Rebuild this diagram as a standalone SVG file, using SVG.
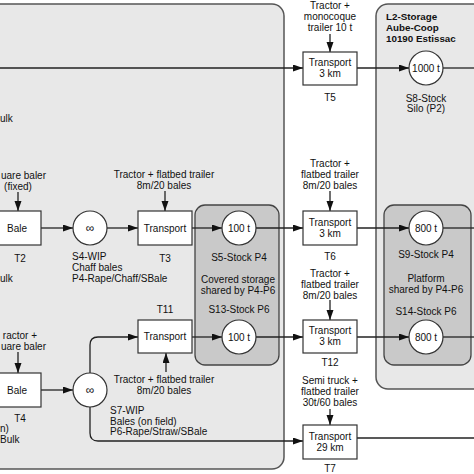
<svg xmlns="http://www.w3.org/2000/svg" width="474" height="474" viewBox="0 0 474 474">
<style>
text{font-family:"Liberation Sans",Arial,sans-serif;font-size:10px;fill:#111;}
.c{text-anchor:middle;}
.e{text-anchor:end;}
.b{font-weight:bold;font-size:9.8px;}
.inf{font-size:12px;}
.cont{fill:#e8e8e8;stroke:#555;stroke-width:1.5;}
.inner{fill:#c9c9c9;stroke:#444;stroke-width:1.3;}
.box{fill:#fff;stroke:#333;stroke-width:1.2;}
.circ{fill:#fff;stroke:#333;stroke-width:1.2;}
.ln{fill:none;stroke:#222;stroke-width:1.3;}
.ar{marker-end:url(#ah);}
</style>
<defs>
<marker id="ah" markerUnits="userSpaceOnUse" markerWidth="11" markerHeight="8" refX="10" refY="3.5" orient="auto">
<path d="M0,0 L10,3.5 L0,7 z" fill="#111"/>
</marker>
</defs>
<rect width="474" height="474" fill="#fff"/>
<g id="L1-container"><rect class="cont" x="-20" y="4" width="304" height="465" rx="12"/></g>
<g id="L2-container"><rect class="cont" x="376" y="4" width="130" height="385" rx="12"/>
<text class="b" x="386" y="19.5">L2-Storage</text>
<text class="b" x="386" y="30.5">Aube-Coop</text>
<text class="b" x="386" y="41.5">10190 Estissac</text></g>
<g id="covered-storage"><rect class="inner" x="195" y="205" width="84" height="160" rx="10"/>
<text class="c" x="238" y="282.5">Covered storage</text>
<text class="c" x="238" y="293.5">shared by P4-P6</text></g>
<g id="platform"><rect class="inner" x="384" y="205" width="87" height="160" rx="10"/>
<text class="c" x="426" y="281.5">Platform</text>
<text class="c" x="426" y="292.5">shared by P4-P6</text></g>
<g id="side-labels">
<text x="0" y="121.5">ulk</text>
<text x="0" y="281.5">ulk</text>
<text x="0" y="431.5">n)</text>
<text x="0" y="442.5">Bulk</text>
</g>
<g id="connectors">
<line class="ln ar" x1="0" y1="68" x2="303" y2="68"/>
<line class="ln ar" x1="330" y1="34" x2="330" y2="52"/>
<line class="ln ar" x1="357" y1="68" x2="409" y2="68"/>
<line class="ln" x1="443" y1="68" x2="474" y2="68"/>
<line class="ln ar" x1="18" y1="192" x2="18" y2="211"/>
<line class="ln ar" x1="41" y1="228" x2="73" y2="228"/>
<line class="ln ar" x1="107" y1="228" x2="138" y2="228"/>
<line class="ln ar" x1="165" y1="191" x2="165" y2="211"/>
<line class="ln ar" x1="192" y1="228" x2="222" y2="228"/>
<line class="ln ar" x1="256" y1="228" x2="303" y2="228"/>
<line class="ln ar" x1="330" y1="191" x2="330" y2="211"/>
<line class="ln ar" x1="357" y1="228" x2="409" y2="228"/>
<line class="ln" x1="443" y1="228" x2="474" y2="228"/>
<line class="ln ar" x1="166" y1="372" x2="166" y2="353"/>
<line class="ln ar" x1="192" y1="337" x2="222" y2="337"/>
<line class="ln ar" x1="256" y1="337" x2="303" y2="337"/>
<line class="ln ar" x1="330" y1="300" x2="330" y2="320"/>
<line class="ln ar" x1="357" y1="337" x2="409" y2="337"/>
<line class="ln" x1="443" y1="337" x2="474" y2="337"/>
<line class="ln ar" x1="18" y1="352" x2="18" y2="373"/>
<line class="ln ar" x1="41" y1="390" x2="73" y2="390"/>
<path class="ln ar" d="M90,373 V345 Q90,337 98,337 H138"/>
<path class="ln ar" d="M90,407 V433 Q90,441 98,441 H303"/>
<line class="ln ar" x1="330" y1="409" x2="330" y2="425"/>
<line class="ln" x1="357" y1="438" x2="474" y2="438"/>
</g>
<g id="T5"><text class="c" x="330" y="8.5">Tractor +</text><text class="c" x="330" y="19.5">monocoque</text><text class="c" x="330" y="30.5">trailer 10 t</text>
<rect class="box" x="303" y="52" width="54" height="33"/><text class="c" x="330" y="65.5">Transport</text><text class="c" x="330" y="77">3 km</text><text class="c" x="330" y="100.5">T5</text></g>
<g id="S8"><circle class="circ" cx="426" cy="68" r="17"/><text class="c" x="426" y="71.5">1000 t</text><text class="c" x="426" y="101.5">S8-Stock</text><text class="c" x="426" y="112">Silo (P2)</text></g>
<g id="T2"><text class="e" x="46" y="178.5">uare baler</text><text class="c" x="18" y="189.5">(fixed)</text>
<rect class="box" x="-6" y="211" width="47" height="34"/><text class="c" x="17" y="231.5">Bale</text><text class="c" x="20" y="261.5">T2</text></g>
<g id="S4"><circle class="circ" cx="90" cy="228" r="17"/><text class="c inf" x="90" y="232">∞</text>
<text x="72" y="259.5">S4-WIP</text><text x="72" y="270.5">Chaff bales</text><text x="72" y="281.5">P4-Rape/Chaff/SBale</text></g>
<g id="T3"><text class="c" x="164" y="177.5">Tractor + flatbed trailer</text><text class="c" x="164" y="188.5">8m/20 bales</text>
<rect class="box" x="138" y="211" width="54" height="34"/><text class="c" x="165" y="231.5">Transport</text><text class="c" x="165" y="261.5">T3</text></g>
<g id="S5"><circle class="circ" cx="239" cy="228" r="17"/><text class="c" x="239" y="231.5">100 t</text><text class="c" x="239" y="260.5">S5-Stock P4</text></g>
<g id="S13"><text class="c" x="239" y="312.5">S13-Stock P6</text><circle class="circ" cx="239" cy="337" r="17"/><text class="c" x="239" y="340.5">100 t</text></g>
<g id="T6"><text class="c" x="330" y="166.5">Tractor +</text><text class="c" x="330" y="177.5">flatbed trailer</text><text class="c" x="330" y="188.5">8m/20 bales</text>
<rect class="box" x="303" y="211" width="54" height="34"/><text class="c" x="330" y="225.5">Transport</text><text class="c" x="330" y="236.5">3 km</text><text class="c" x="330" y="259.5">T6</text></g>
<g id="S9"><circle class="circ" cx="426" cy="228" r="17"/><text class="c" x="426" y="231.5">800 t</text><text class="c" x="426" y="257.5">S9-Stock P4</text></g>
<g id="S14"><text class="c" x="426" y="314.5">S14-Stock P6</text><circle class="circ" cx="426" cy="337" r="17"/><text class="c" x="426" y="340.5">800 t</text></g>
<g id="T11"><text class="c" x="165" y="312.5">T11</text><rect class="box" x="138" y="320" width="54" height="33"/><text class="c" x="165" y="340">Transport</text>
<text class="c" x="164" y="382.5">Tractor + flatbed trailer</text><text class="c" x="164" y="393.5">8m/20 bales</text></g>
<g id="T12"><text class="c" x="330" y="276.5">Tractor +</text><text class="c" x="330" y="287.5">flatbed trailer</text><text class="c" x="330" y="298.5">8m/20 bales</text>
<rect class="box" x="303" y="320" width="54" height="33"/><text class="c" x="330" y="334">Transport</text><text class="c" x="330" y="345">3 km</text><text class="c" x="330" y="365.5">T12</text></g>
<g id="T4"><text class="e" x="37" y="338.5">ractor +</text><text class="e" x="46" y="349.5">uare baler</text>
<rect class="box" x="-6" y="373" width="47" height="34"/><text class="c" x="17" y="393.5">Bale</text><text class="c" x="20" y="421.5">T4</text></g>
<g id="S7"><circle class="circ" cx="90" cy="390" r="17"/><text class="c inf" x="90" y="394">∞</text>
<text x="110" y="413.5">S7-WIP</text><text x="110" y="424.5">Bales (on field)</text><text x="110" y="435">P6-Rape/Straw/SBale</text></g>
<g id="T7"><text class="c" x="330" y="383.5">Semi truck +</text><text class="c" x="330" y="395">flatbed trailer</text><text class="c" x="330" y="406">30t/60 bales</text>
<rect class="box" x="303" y="425" width="54" height="34"/><text class="c" x="330" y="439.5">Transport</text><text class="c" x="330" y="451">29 km</text><text class="c" x="330" y="471.5">T7</text></g>
</svg>
